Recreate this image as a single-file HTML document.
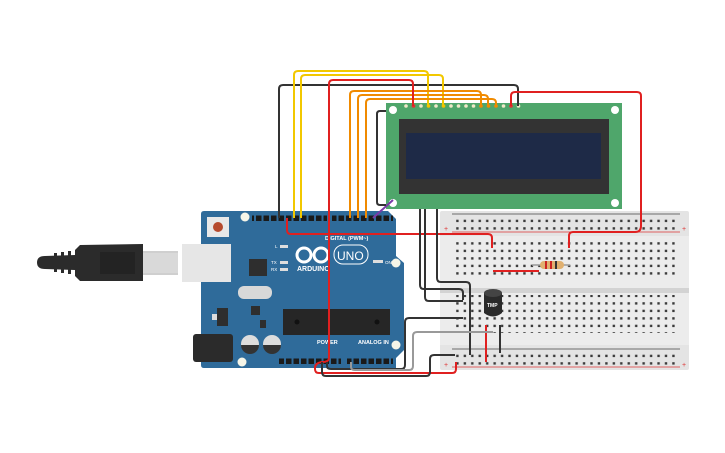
<!DOCTYPE html>
<html><head><style>
html,body{margin:0;padding:0;background:#fff;width:725px;height:453px;overflow:hidden}
svg{display:block}
text{font-family:"Liberation Sans",sans-serif}
</style></head><body>
<svg width="725" height="453" viewBox="0 0 725 453" xmlns="http://www.w3.org/2000/svg">
<defs>
<pattern id="bbh" x="454" y="0" width="7.45" height="7.5" patternUnits="userSpaceOnUse">
<rect x="2.2" y="2.2" width="2.4" height="2.4" fill="#3a3a3a"/>
</pattern>
<pattern id="hdr" x="0" y="214" width="7.5" height="9" patternUnits="userSpaceOnUse">
<rect x="1" y="1.5" width="5.5" height="5.5" fill="#1a1a1a"/>
</pattern>
<pattern id="hdr2" x="0" y="357" width="7.5" height="9" patternUnits="userSpaceOnUse">
<rect x="1" y="1.5" width="5.5" height="5.5" fill="#1a1a1a"/>
</pattern>
</defs>

<!-- Breadboard -->
<rect x="440" y="211" width="249" height="159" rx="2" fill="#e4e4e4"/>
<rect x="440" y="236" width="249" height="52" fill="#ececec"/>
<rect x="440" y="293" width="249" height="52" fill="#ececec"/>
<rect x="440" y="288" width="249" height="5" fill="#d3d3d3"/>
<line x1="452" y1="214" x2="680" y2="214" stroke="#444" stroke-width="0.8"/>
<line x1="452" y1="232" x2="680" y2="232" stroke="#d33" stroke-width="0.8"/>
<line x1="452" y1="349" x2="680" y2="349" stroke="#444" stroke-width="0.8"/>
<line x1="452" y1="367" x2="680" y2="367" stroke="#d33" stroke-width="0.8"/>
<rect x="454" y="215" width="224" height="15" fill="url(#bbh)"/>
<rect x="454" y="240" width="224" height="38" fill="url(#bbh)"/>
<rect x="454" y="295" width="224" height="38" fill="url(#bbh)"/>
<rect x="454" y="350" width="224" height="15" fill="url(#bbh)"/>
<text x="444" y="231" font-size="7" fill="#d33">+</text>
<text x="682" y="231" font-size="7" fill="#d33">+</text>
<text x="444" y="367" font-size="7" fill="#d33">+</text>
<text x="682" y="367" font-size="7" fill="#d33">+</text>

<!-- Arduino board -->
<path d="M201 214 Q201 211 204 211 L388 211 L396 219 L396 256 L404 263 L404 350 L396 358 L396 368 L204 368 Q201 368 201 365 Z" fill="#2f6b9a"/>
<rect x="252" y="214" width="75" height="9" fill="url(#hdr)"/>
<rect x="332" y="214" width="61" height="9" fill="url(#hdr)"/>
<rect x="279" y="357" width="62" height="9" fill="url(#hdr2)"/>
<rect x="347" y="357" width="46" height="9" fill="url(#hdr2)"/>
<circle cx="245" cy="217" r="4.5" fill="#f5f5e8"/>
<circle cx="396" cy="263" r="4.5" fill="#f5f5e8"/>
<circle cx="396" cy="345" r="4.5" fill="#f5f5e8"/>
<circle cx="242" cy="362" r="4.5" fill="#f5f5e8"/>
<rect x="207" y="217" width="22" height="20" fill="#e8e8e8"/>
<circle cx="218" cy="227" r="5" fill="#b64a2d"/>
<rect x="249" y="259" width="18" height="17" fill="#2e2e2e"/>
<rect x="238" y="286" width="34" height="13" rx="6" fill="#d8d8d8"/>
<rect x="251" y="306" width="9" height="9" fill="#2e2e2e"/>
<rect x="217" y="308" width="11" height="18" fill="#2e2e2e"/>
<rect x="212" y="314" width="5" height="6" fill="#ddd"/>
<rect x="260" y="320" width="6" height="8" fill="#2e2e2e"/>
<rect x="283" y="309" width="107" height="26" fill="#262626"/>
<circle cx="297" cy="322" r="2.5" fill="#111"/><circle cx="377" cy="322" r="2.5" fill="#111"/>
<circle cx="250" cy="344" r="9" fill="#ddd"/><path d="M241 345 A9 9 0 0 0 259 345 Z" fill="#333"/>
<circle cx="272" cy="344" r="9" fill="#ddd"/><path d="M263 345 A9 9 0 0 0 281 345 Z" fill="#333"/>
<rect x="193" y="334" width="40" height="28" rx="3" fill="#2b2b2b"/>
<rect x="280" y="245" width="8" height="3" fill="#ddd"/>
<rect x="280" y="261" width="8" height="3" fill="#ddd"/>
<rect x="280" y="268" width="8" height="3" fill="#ddd"/>
<rect x="373" y="260" width="10" height="3" fill="#ddd"/>
<text x="275" y="248" font-size="4.5" fill="#fff">L</text>
<text x="271" y="264" font-size="4.5" fill="#fff">TX</text>
<text x="271" y="271" font-size="4.5" fill="#fff">RX</text>
<text x="385" y="264" font-size="4.5" fill="#fff">ON</text>
<text x="325" y="240" font-size="5.5" fill="#fff" font-weight="bold">DIGITAL (PWM~)</text>
<g fill="none" stroke="#fff" stroke-width="3"><circle cx="304" cy="255" r="7"/><circle cx="321" cy="255" r="7"/></g>
<text x="297" y="271" font-size="7" fill="#fff" font-weight="bold">ARDUINO</text>
<rect x="334" y="245" width="34" height="19" rx="9" fill="none" stroke="#fff" stroke-width="1"/>
<text x="337" y="260" font-size="12" fill="#fff">UNO</text>
<text x="317" y="344" font-size="5.5" fill="#fff" font-weight="bold">POWER</text>
<text x="358" y="344" font-size="5.5" fill="#fff" font-weight="bold">ANALOG IN</text>

<!-- USB -->
<rect x="182" y="244" width="49" height="38" fill="#e6e6e6"/>
<rect x="143" y="251" width="35" height="24" fill="#cfcfcf"/>
<rect x="143" y="253" width="35" height="20" fill="#d9d9d9"/>
<path d="M80 245 L143 244 L143 281 L80 281 L75 276 L75 250 Z" fill="#2b2b2b"/>
<rect x="100" y="252" width="35" height="22" fill="#232323"/>
<path d="M75 255 L45 256 Q37 256 37 262.5 Q37 269 45 269 L75 270 Z" fill="#2b2b2b"/>
<rect x="54" y="253" width="3" height="19" fill="#2b2b2b"/>
<rect x="61" y="252" width="3" height="21" fill="#2b2b2b"/>
<rect x="68" y="251" width="3" height="23" fill="#2b2b2b"/>

<!-- LCD -->
<rect x="386" y="103" width="236" height="106" fill="#4fa66b"/>
<circle cx="393" cy="110" r="4" fill="#fff"/><circle cx="615" cy="110" r="4" fill="#fff"/>
<circle cx="393" cy="203" r="4" fill="#fff"/><circle cx="615" cy="203" r="4" fill="#fff"/>
<rect x="399" y="119" width="210" height="75" fill="#333"/>
<rect x="406" y="133" width="195" height="46" fill="#1e2a47"/>
<g fill="#f0e8c8">
<circle cx="406" cy="106" r="1.8"/><circle cx="413.5" cy="106" r="1.8" fill="#d33"/><circle cx="421" cy="106" r="1.8"/><circle cx="428.5" cy="106" r="1.8" fill="#f2c200"/><circle cx="436" cy="106" r="1.8"/><circle cx="443.5" cy="106" r="1.8" fill="#f2c200"/><circle cx="451" cy="106" r="1.8"/><circle cx="458.5" cy="106" r="1.8"/><circle cx="466" cy="106" r="1.8"/><circle cx="473.5" cy="106" r="1.8"/><circle cx="481" cy="106" r="1.8" fill="#f08a00"/><circle cx="488.5" cy="106" r="1.8" fill="#f08a00"/><circle cx="496" cy="106" r="1.8" fill="#f08a00"/><circle cx="503.5" cy="106" r="1.8"/><circle cx="511" cy="106" r="1.8" fill="#d33"/><circle cx="518.5" cy="106" r="1.8"/>
</g>

<!-- Resistor & TMP -->
<line x1="532" y1="265" x2="570" y2="265" stroke="#999" stroke-width="1.5"/>
<rect x="540" y="261" width="24" height="8" rx="4" fill="#e0b070"/>
<rect x="545" y="261" width="2" height="8" fill="#c22"/><rect x="550" y="261" width="2" height="8" fill="#c22"/><rect x="555" y="261" width="2" height="8" fill="#333"/>
<path d="M484 293 Q493 286 502 293 L502 313 Q493 320 484 313 Z" fill="#2a2a2a"/>
<ellipse cx="493" cy="293" rx="9" ry="4" fill="#444"/>
<text x="487" y="307" font-size="5" fill="#fff" font-weight="bold">TMP</text>

<!-- Wires -->
<g fill="none" stroke-width="2" stroke-linejoin="round">
<path d="M279 218 L279 89 Q279 85 283 85 L514 85 Q518 85 518 89 L518 106" stroke="#333"/>
<path d="M294 218 L294 75 Q294 71 298 71 L424 71 Q428 71 428 75 L428 106" stroke="#f2c800"/>
<path d="M301 218 L301 79 Q301 75 305 75 L439 75 Q443 75 443 79 L443 106" stroke="#f2c800"/>
<path d="M350 218 L350 95 Q350 91 354 91 L477 91 Q481 91 481 95 L481 106" stroke="#f08a00"/>
<path d="M358 218 L358 99 Q358 95 362 95 L484 95 Q488 95 488 99 L488 106" stroke="#f08a00"/>
<path d="M366 218 L366 103 Q366 99 370 99 L492 99 Q496 99 496 103 L496 106" stroke="#f08a00"/>
<path d="M413 106 L413 84 Q413 80 409 80 L333 80 Q329 80 329 84 L329 358 Q329 362 322 362 Q315 363 315 368 L315 369 Q315 373 319 373 L452 373 Q456 373 456 369 L456 362" stroke="#e02020"/>
<path d="M511 106 L511 96 Q511 92 515 92 L637 92 Q641 92 641 96 L641 226 Q641 232 635 232 L573 232 Q569 232 569 236 L569 248" stroke="#e02020"/>
<path d="M287 218 L287 230 Q287 234 291 234 L488 234 Q492 234 492 238 L492 248" stroke="#e02020"/>
<path d="M493 271 L539 271" stroke="#e02020"/>
<path d="M486 325 L486 362" stroke="#e02020"/>
<path d="M500 325 L500 353" stroke="#333"/>
<path d="M373 218 L393 200" stroke="#7a3aa8"/>
<path d="M386 111 L380 111 Q377 111 377 114 L377 202 Q377 205 380 205 L386 205" stroke="#333"/>
<path d="M437 209 L437 278 Q437 282 441 282 L466 282 Q470 282 470 286 L470 355" stroke="#333"/>
<path d="M420 209 L420 285 Q420 289 424 289 L459 289 Q463 289 463 293 L463 300" stroke="#333"/>
<path d="M425 209 L425 297 Q425 301 429 301 L463 301" stroke="#333"/>
<path d="M327 362 L327 366 Q327 369 331 369 L401 369 Q405 369 405 365 L405 322 Q405 318 409 318 L463 318" stroke="#333"/>
<path d="M351 362 L351 367 Q351 370 355 370 L409 370 Q413 370 413 366 L413 336 Q413 332 417 332 L493 332" stroke="#999"/>
<path d="M322 362 L322 372 Q322 376 326 376 L426 376 Q430 376 430 372 L430 359 Q430 355 434 355 L455 355" stroke="#333"/>
</g>
</svg>
</body></html>
